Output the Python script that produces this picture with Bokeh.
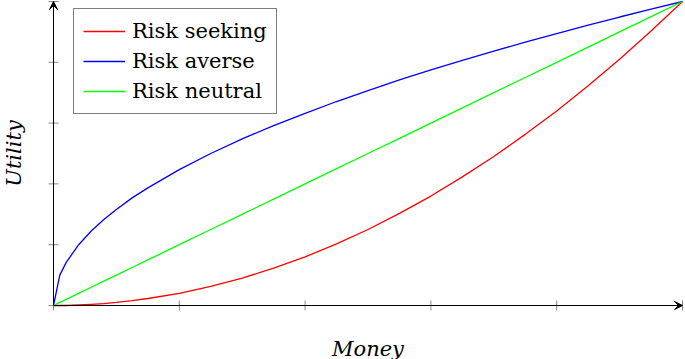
import math
from bokeh.plotting import figure
from bokeh.models import Range1d, Arrow, VeeHead, Legend, LegendItem, Label
from bokeh.embed import file_html
from bokeh.resources import INLINE

# Data
money = [0, 0.01, 0.02, 0.04, 0.06, 0.08, 0.1, 0.125, 0.15, 0.2, 0.25, 0.3, 0.35, 0.4,
         0.45, 0.5, 0.55, 0.6, 0.65, 0.7, 0.75, 0.8, 0.85, 0.9, 0.95, 1.0]
risk_seeking = [0, 0.000, 0.000, 0.002, 0.004, 0.006, 0.010, 0.016, 0.023, 0.040, 0.063,
                0.090, 0.123, 0.160, 0.203, 0.250, 0.303, 0.360, 0.423, 0.490, 0.563,
                0.640, 0.723, 0.810, 0.903, 1.000]
risk_averse = [0, 0.100, 0.141, 0.200, 0.245, 0.283, 0.316, 0.354, 0.387, 0.447, 0.500,
               0.548, 0.592, 0.632, 0.671, 0.707, 0.742, 0.775, 0.806, 0.837, 0.866,
               0.894, 0.922, 0.949, 0.975, 1.000]
risk_neutral = [0, 0.01, 0.02, 0.04, 0.06, 0.08, 0.1, 0.125, 0.15, 0.2, 0.25, 0.3, 0.35, 0.4,
                0.45, 0.5, 0.55, 0.6, 0.65, 0.7, 0.75, 0.8, 0.85, 0.9, 0.95, 1.0]
tick_positions = [0, 0.2, 0.4, 0.6, 0.8, 1.0]
zeros = [0, 0, 0, 0, 0, 0]

W, H = 685, 359
# pixel placement of the data box [0,1]x[0,1] inside the figure
px0, px1 = 53, 682
py_top, py_bot = 1, 305
sx = (px1 - px0)
sy = (py_bot - py_top)
x_range = Range1d(-px0 / sx, 1 + (W - px1) / sx)
y_range = Range1d(-(H - py_bot) / sy, 1 + py_top / sy)

p = figure(width=W, height=H, output_backend="svg", toolbar_location=None,
           x_range=x_range, y_range=y_range,
           min_border_left=0, min_border_right=0, min_border_top=0, min_border_bottom=0)
p.outline_line_color = None
p.xgrid.visible = False
p.ygrid.visible = False
p.xaxis.visible = False
p.yaxis.visible = False

# tick marks crossing the axes
tick_col = "#8c8c8c"
p.scatter(tick_positions, zeros, marker="dash", size=10, angle=math.pi / 2,
          line_color=tick_col, line_width=1)
p.scatter(zeros, tick_positions, marker="dash", size=10,
          line_color=tick_col, line_width=1)

r1 = p.line(money, risk_seeking, line_color="#ff0000", line_width=1.3)
r2 = p.line(money, risk_averse, line_color="#0000ff", line_width=1.3)
r3 = p.line(money, risk_neutral, line_color="#00ff00", line_width=1.3)

p.add_layout(Arrow(end=VeeHead(size=8, line_color="black", fill_color="black"),
                   x_start=0, y_start=0, x_end=1, y_end=0, line_color="black", line_width=1))
p.add_layout(Arrow(end=VeeHead(size=8, line_color="black", fill_color="black"),
                   x_start=0, y_start=0, x_end=0, y_end=1, line_color="black", line_width=1))

p.add_layout(Label(x=0.5, y=0, x_offset=0, y_offset=-31, text="Money", text_align="center",
                   text_baseline="top", text_font="DejaVu Serif", text_font_style="italic",
                   text_font_size="21px", text_color="black"))
p.add_layout(Label(x=0, y=0.5, x_offset=-40, text="Utility", text_align="center",
                   text_baseline="alphabetic", angle=math.pi / 2, text_font="DejaVu Serif",
                   text_font_style="italic", text_font_size="21px", text_color="black"))

legend = Legend(items=[LegendItem(label="Risk seeking", renderers=[r1]),
                       LegendItem(label="Risk averse", renderers=[r2]),
                       LegendItem(label="Risk neutral", renderers=[r3])])
legend.margin = 0
legend.location = (73, H - 114)
legend.border_line_color = "black"
legend.border_line_width = 1
legend.label_text_font = "DejaVu Serif"
legend.label_text_font_size = "21px"
legend.label_text_color = "black"
legend.label_height = 26
legend.glyph_height = 26
legend.glyph_width = 42
legend.label_standoff = 7
legend.spacing = 4
legend.padding = 9
legend.background_fill_alpha = 1
p.add_layout(legend)

open("out.html", "w").write(file_html(p, INLINE))
